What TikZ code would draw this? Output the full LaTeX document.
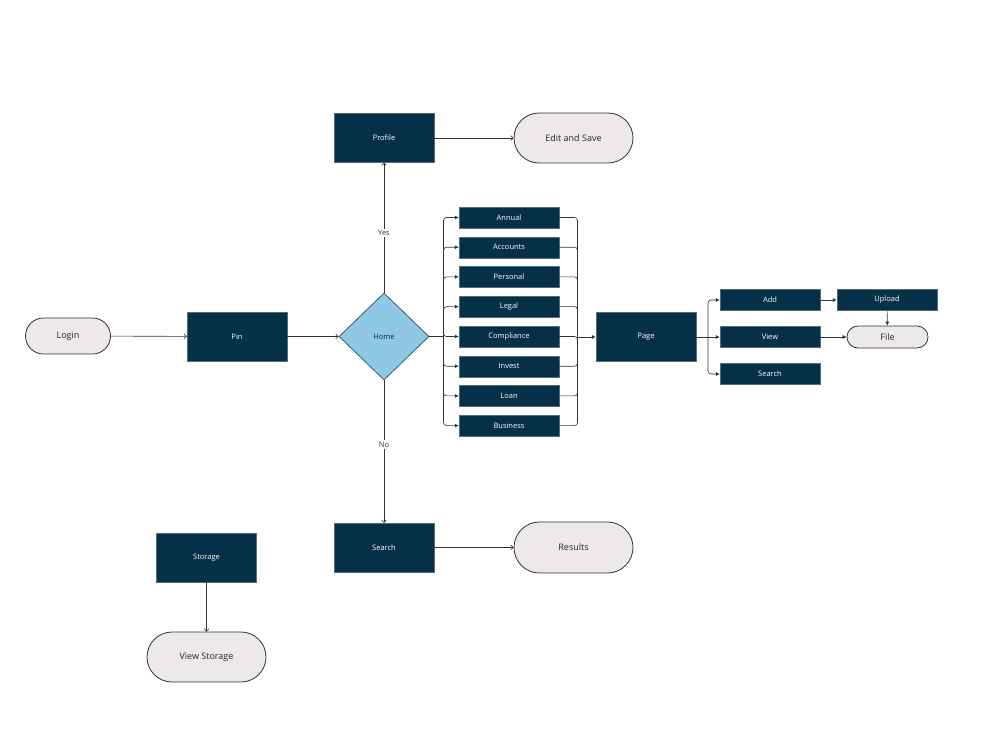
\documentclass[tikz,border=0pt]{standalone}
\usepackage{fontspec}
\setmainfont{Open Sans}
\usetikzlibrary{shapes.geometric,shapes.misc,arrows.meta}
\definecolor{navy}{HTML}{053047}
\definecolor{pillfill}{HTML}{EDE9E8}
\definecolor{diafill}{HTML}{8FC8E5}
\definecolor{linec}{HTML}{333333}
\tikzset{
  bigbox/.style={rectangle, fill=navy, draw=navy!70!white, text=white, minimum width=100pt, minimum height=49pt, inner sep=0pt, font=\fontsize{7.5}{9}\selectfont},
  smallbox/.style={rectangle, fill=navy, draw=navy!70!white, text=white, minimum width=100pt, minimum height=21pt, inner sep=0pt, font=\fontsize{7.5}{9}\selectfont},
  pill/.style={rounded rectangle, fill=pillfill, draw=linec, line width=0.8pt, text=black!85, inner sep=0pt, font=\fontsize{9}{11}\selectfont},
  dia/.style={diamond, aspect=1.03, fill=diafill, draw=navy!80, line width=0.8pt, inner sep=0pt, minimum width=90pt, minimum height=87pt, font=\fontsize{7.5}{9}\selectfont, text=navy},
  conn/.style={draw=linec, line width=0.6pt},
  openarr/.style={conn, -{To[length=3pt,width=5pt]}},
  fillarr/.style={conn, -{Latex[length=4pt,width=4pt]}},
  fan/.style={fillarr, rounded corners=3pt},
  lbl/.style={fill=white, inner sep=1.5pt, font=\fontsize{7.5}{9}\selectfont, text=black!80}
}
\begin{document}
\begin{tikzpicture}[x=1pt,y=-1pt]
\useasboundingbox (0,0) rectangle (1000,750);
\fill[white] (0,0) rectangle (1000,750);

% main flow
\node[pill, minimum width=85pt, minimum height=36pt] (login) at (68,336) {Login};
\node[bigbox] (pin) at (237,336.5) {Pin};
\node[dia] (home) at (384,336.5) {Home};
\node[bigbox] (profile) at (384,138) {Profile};
\node[pill, minimum width=119pt, minimum height=50pt] (edit) at (573.5,138) {Edit and Save};
\node[bigbox] (search) at (384,547.5) {Search};
\node[pill, minimum width=119pt, minimum height=51pt] (results) at (573.5,547.5) {Results};
\node[bigbox] (storage) at (206.5,557.5) {Storage};
\node[pill, minimum width=119pt, minimum height=50pt] (viewst) at (206.5,657) {View Storage};

\draw[openarr] (login) -- (pin);
\draw[openarr] (pin) -- (home);
\draw[openarr] (home.north) -- node[lbl, pos=0.46] {Yes} (profile.south);
\draw[openarr] (home.south) -- node[lbl, pos=0.45] {No} (search.north);
\draw[openarr] (profile) -- (edit);
\draw[openarr] (search) -- (results);
\draw[openarr] (storage) -- (viewst);

% column
\node[smallbox] (annual) at (509,217.5) {Annual};
\node[smallbox] (accounts) at (509,247.2) {Accounts};
\node[smallbox] (personal) at (509,276.9) {Personal};
\node[smallbox] (legal) at (509,306.6) {Legal};
\node[smallbox] (compliance) at (509,336.5) {Compliance};
\node[smallbox] (invest) at (509,366.2) {Invest};
\node[smallbox] (loan) at (509,395.9) {Loan};
\node[smallbox] (business) at (509,425.6) {Business};

\coordinate (hb) at (443.5,336.5);
\coordinate (rb) at (577.5,337);
\draw[conn] (home.east) -- (hb);
\foreach \b in {annual,accounts,personal,legal,compliance,invest,loan,business}{
  \draw[fan] (hb) |- (\b.west);
  \draw[conn, rounded corners=3pt] (\b.east) -| (rb);
}

\node[bigbox] (page) at (646,337) {Page};
\draw[fillarr] (rb) -- (page.west);

\node[smallbox] (add) at (770,300) {Add};
\node[smallbox] (view) at (770,337) {View};
\node[smallbox] (search2) at (770,374) {Search};
\node[smallbox] (upload) at (887,300) {Upload};
\node[pill, minimum width=81pt, minimum height=22pt] (file) at (887.5,337) {File};

\coordinate (pb) at (708,337);
\draw[conn] (page.east) -- (pb);
\draw[fan] (pb) |- (add.west);
\draw[fan] (pb) -- (view.west);
\draw[fan] (pb) |- (search2.west);
\draw[fillarr] (add) -- (upload);
\draw[fillarr] (upload) -- (file);
\draw[fillarr] (view) -- (file);
\end{tikzpicture}
\end{document}
